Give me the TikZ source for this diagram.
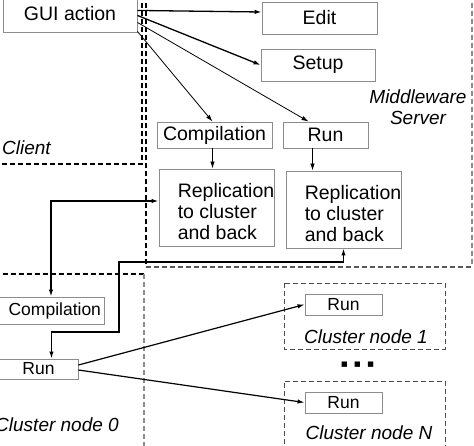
\documentclass[tikz,border=0pt]{standalone}
\usepackage{fontspec}
\setmainfont{Liberation Sans}
\newfontfamily\symfont{DejaVu Sans}
\usetikzlibrary{arrows.meta,calc}
\begin{document}
\begin{tikzpicture}[x=1pt,y=-1pt,
  box/.style={draw=black!45, line width=0.9pt, inner sep=0pt, font=\fontsize{19.5}{21}\selectfont},
  smallbox/.style={box, font=\fontsize{17.5}{19}\selectfont},
  reptext/.style={inner sep=0pt, align=left, font=\fontsize{19.5}{21}\selectfont},
  zone/.style={dash pattern=on 5pt off 3pt, line width=1.2pt},
  zonegray/.style={zone, draw=black!45},
  lab/.style={font=\fontsize{19}{21}\selectfont\itshape, inner sep=0pt},
  arr/.style={-{Latex[length=7pt,width=4.5pt]}, line width=1.3pt},
  thinarr/.style={-{Latex[length=7pt,width=4.5pt]}, line width=0.8pt},
  biarr/.style={{Latex[length=7pt,width=4.5pt]}-{Latex[length=7pt,width=4.5pt]}, line width=1.4pt}]

\useasboundingbox (0,0) rectangle (474,445);

% zones
\draw[zone] (142,-5) -- (142,164) -- (-5,164);
\draw[zone] (146,-5) -- (146,267);
\draw[zone, draw=black!65] (146,267) -- (472,267);
\draw[zonegray] (472,-5) -- (472,267);
\draw[zone] (-5,274) -- (144,274);
\draw[zonegray] (144,274) -- (144,450);
\draw[zone, draw=black!70, line width=1pt] (284,283) rectangle (445,349);
\draw[zone, draw=black!70, line width=1pt] (445,450) -- (445,381) -- (284,381) -- (284,450);

% zone labels
\node[lab, anchor=west] (client) at (2,148) {Client};
\node[lab, align=center] (mw) at (418,107) {Middleware\\Server};
\node[lab, anchor=east] (c0) at (119,425) {Cluster node 0};
\node[lab] (c1) at (366,337) {Cluster node 1};
\node[lab] (cn) at (369,433) {Cluster node N};
\node[inner sep=0pt, font=\symfont\fontsize{7}{8}\selectfont] (dots) at (357.5,365) {■\hspace{6.5pt}■\hspace{6.5pt}■};

% boxes
\node[box, minimum width=134pt, minimum height=36pt] (gui) at (70,14) {GUI action};
\node[box, minimum width=115pt, minimum height=32pt] (edit) at (319.5,18) {Edit};
\node[box, minimum width=114pt, minimum height=32pt] (setup) at (318,65) {Setup};
\node[box, minimum width=115pt, minimum height=26pt] (compM) at (214.5,135) {Compilation};
\node[box, minimum width=85pt, minimum height=26pt] (runM) at (325.5,135) {Run};
\node[box, minimum width=115pt, minimum height=77pt] (rep1) at (216.5,207.5) {};
\node[reptext, anchor=west] (rep1t) at ($(rep1.west)+(19,4)$) {Replication\\to cluster\\and back};
\node[box, minimum width=115pt, minimum height=77pt] (rep2) at (343.5,209.5) {};
\node[reptext, anchor=west] (rep2t) at ($(rep2.west)+(19,4)$) {Replication\\to cluster\\and back};
\node[smallbox, minimum height=27pt, text width=100pt, inner xsep=3pt, align=right] (comp0) at (51,310.5) {Compilation};
\node[smallbox, minimum width=79pt, minimum height=20pt] (run0) at (38.5,369) {Run};
\node[smallbox, minimum width=77pt, minimum height=21pt] (run1) at (343.5,304.5) {Run};
\node[smallbox, minimum width=77pt, minimum height=21pt] (runN) at (343.5,402.5) {Run};

% GUI arrows
\draw[arr] ($(gui.south east)+(0,-22)$) -- ($(edit.west)+(0,-6)$);
\draw[arr] ($(gui.south east)+(0,-17)$) -- (setup.west);
\draw[thinarr] ($(gui.south east)+(0,-10)$) -- ($(runM.north)+(-17,0)$);
\draw[thinarr] ($(gui.south east)+(0,-1)$) -- ($(compM.north)+(-2,0)$);

% down arrows
\coordinate (ca) at ($(compM.south)+(-2,0)$);
\coordinate (ra) at ($(runM.south)+(-13,0)$);
\draw[thinarr] (ca) -- (ca |- rep1.north);
\draw[thinarr] (ra) -- (ra |- rep2.north);

% replication loops
\draw[biarr] ($(rep1.west)+(0,-6.5)$) -| (comp0.north);
\coordinate (b1) at (119,262);
\coordinate (b2) at (119,332);
\coordinate (rn) at ($(run0.north)+(13,0)$);
\draw[biarr] (rep2.south) |- (b1) -- (b2) -| (rn);

% cluster arrows
\draw[arr, line width=1.2pt] ($(run0.east)+(0,-4)$) -- (run1.west);
\draw[arr, line width=1.2pt] ($(run0.east)+(0,1)$) -- (runN.west);
\end{tikzpicture}
\end{document}
